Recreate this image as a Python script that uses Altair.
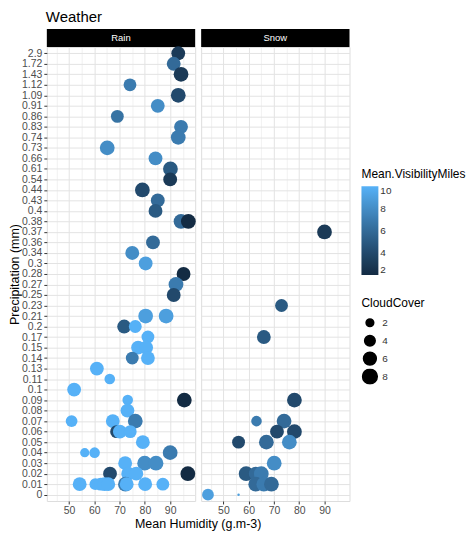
import altair as alt
import pandas as pd

# y-axis categories (top to bottom)
y_order = ["2.9", "1.72", "1.43", "1.12", "1.09", "0.91", "0.86", "0.83", "0.74",
           "0.73", "0.66", "0.61", "0.54", "0.44", "0.43", "0.4", "0.38", "0.37",
           "0.36", "0.34", "0.3", "0.28", "0.27", "0.25", "0.23", "0.21", "0.2",
           "0.17", "0.15", "0.14", "0.13", "0.11", "0.1", "0.09", "0.08", "0.07",
           "0.06", "0.05", "0.04", "0.03", "0.02", "0.01", "0"]

# Rain panel
rain_precip = ["2.9", "1.72", "1.43", "1.12", "1.09", "0.91", "0.86", "0.83", "0.74",
               "0.73", "0.66", "0.61", "0.54", "0.44", "0.43", "0.4", "0.38", "0.38",
               "0.36", "0.34", "0.3", "0.28", "0.27", "0.25", "0.21", "0.21", "0.2",
               "0.2", "0.17", "0.15", "0.15", "0.14", "0.14", "0.13", "0.11", "0.1",
               "0.09", "0.09", "0.08", "0.07", "0.07", "0.07", "0.06", "0.06", "0.06",
               "0.05", "0.04", "0.04", "0.04", "0.03", "0.03", "0.03", "0.02", "0.02",
               "0.02", "0.02", "0.01", "0.01", "0.01", "0.01", "0.01", "0.01", "0.01",
               "0.01", "0.01"]
rain_humidity = [93.2, 91.4, 94.3, 74.1, 93.2, 85.1, 69.1, 94.3, 93.2,
                 65.1, 84.2, 90.1, 90.0, 79.0, 85.1, 84.2, 94.3, 97.2,
                 83.2, 75.0, 80.3, 95.3, 92.3, 91.4, 80.3, 88.4, 71.8,
                 76.2, 81.2, 77.3, 80.5, 75.0, 81.2, 61.0, 66.1, 52.0,
                 73.2, 95.6, 73.1, 51.0, 67.3, 76.2, 68.8, 70.1, 74.2,
                 79.2, 56.2, 60.1, 90.0, 72.2, 79.9, 84.4, 66.2, 73.4,
                 76.6, 97.0, 54.2, 60.4, 62.5, 64.0, 65.5, 72.3, 72.8,
                 80.1, 87.1]
rain_vis = [3, 6, 3, 7, 4, 8, 6.5, 7, 7,
            8, 8, 5, 3, 4, 6, 5, 6, 2,
            6, 8, 9, 2, 7, 4, 9, 9, 5,
            10, 10, 10, 10, 7, 10, 10, 10, 10,
            10, 2, 10, 10, 10, 7, 4, 10, 10,
            10, 10, 10, 7, 10, 8, 8, 4, 10,
            10, 2, 10, 10, 10, 10, 10, 7, 10,
            10, 10]
rain_cloud = [7, 7, 8, 6, 8, 7, 6, 7, 8,
              8, 7, 8, 7, 8, 7, 7, 8, 8,
              7, 7, 7, 7, 8, 7, 8, 8, 7,
              6, 6, 7, 7, 6, 7, 7, 4, 7,
              4, 8, 7, 5, 7, 8, 6, 7, 6,
              7, 3, 4, 8, 7, 8, 8, 7, 7,
              7, 8, 7, 5, 6, 7, 7, 8, 7,
              7, 6]

# Snow panel
snow_precip = ["0.37", "0.23", "0.17", "0.09", "0.07", "0.07", "0.06", "0.06", "0.05",
               "0.05", "0.05", "0.03", "0.02", "0.02", "0.02", "0.01", "0.01", "0.01",
               "0", "0"]
snow_humidity = [90.0, 73.0, 66.0, 78.1, 63.1, 74.0, 71.2, 78.1, 56.0,
                 67.0, 76.1, 70.1, 59.0, 62.8, 65.0, 62.8, 66.0, 69.0,
                 43.9, 56.0]
snow_vis = [3, 5, 5, 4, 7, 6, 4, 4, 4,
            6, 8, 8, 5, 6, 7, 6, 7, 6,
            9, 9]
snow_cloud = [8, 6, 7, 8, 4, 8, 7, 8, 6,
              8, 8, 8, 8, 7, 8, 8, 8, 8,
              5, 0]

rain = pd.DataFrame({"Events": "Rain", "Precip": rain_precip, "Humidity": rain_humidity,
                     "Vis": rain_vis, "Cloud": rain_cloud})
snow = pd.DataFrame({"Events": "Snow", "Precip": snow_precip, "Humidity": snow_humidity,
                     "Vis": snow_vis, "Cloud": snow_cloud})

W, H = 149, 456
FONT = "Liberation Sans"
x_ticks = [45, 50, 55, 60, 65, 70, 75, 80, 85, 90, 95]

major = "datum.value % 10 === 0"
x_axis = alt.Axis(values=x_ticks, labelExpr=f"{major} ? datum.label : ''",
                  title=None, domain=False, grid=True, gridColor="#E3E3E3",
                  gridWidth={"condition": {"test": major, "value": 1}, "value": 0.5},
                  tickOpacity={"condition": {"test": major, "value": 1}, "value": 0},
                  tickColor="#333", tickSize=3, labelColor="#4D4D4D", labelFontSize=10.5,
                  labelPadding=2, labelFont=FONT)

x_enc = alt.X("Humidity:Q", scale=alt.Scale(domain=[41.2, 99.9], nice=False, zero=False),
              axis=x_axis)
y_scale = alt.Scale(domain=y_order, padding=0.6)
color_enc = alt.Color("Vis:Q",
                      scale=alt.Scale(domain=[2, 10], range=["#132B43", "#56B1F7"],
                                      interpolate="lab"),
                      legend=alt.Legend(title="Mean.VisibilityMiles", orient="none",
                                        legendX=316, legendY=123, gradientLength=89,
                                        gradientThickness=17, values=[2, 4, 6, 8, 10],
                                        titleFontSize=12, titleFontWeight="normal",
                                        labelFontSize=10, titleFont=FONT, labelFont=FONT,
                                        labelColor="#333", titleColor="#000"))
size_enc = alt.Size("Cloud:Q", scale=alt.Scale(domain=[0, 8], range=[6, 220]),
                    legend=alt.Legend(title="CloudCover", orient="none", legendX=316,
                                      legendY=252, values=[2, 4, 6, 8],
                                      symbolFillColor="black", symbolStrokeColor="black",
                                      symbolOpacity=1, titleFontSize=12, rowPadding=2,
                                      clipHeight=16,
                                      titleFontWeight="normal", labelFontSize=10,
                                      titleFont=FONT, labelFont=FONT, labelColor="#333"))


def panel(df, name, first):
    if first:
        y_axis = alt.Axis(title="Precipitation (mm)", titleFontSize=12.5,
                          titleFontWeight="normal", titleFont=FONT, titlePadding=0,
                          labelFontSize=10.5, labelFont=FONT, labelColor="#4D4D4D",
                          labelOverlap=False, tickSize=3, tickColor="#333", domain=False,
                          grid=True, gridColor="#E3E3E3", labelPadding=2)
    else:
        y_axis = alt.Axis(title=None, labels=False, ticks=False, domain=False,
                          grid=True, gridColor="#E3E3E3")
    pts = alt.Chart(df).mark_circle(opacity=1).encode(
        x=x_enc,
        y=alt.Y("Precip:N", sort=y_order, scale=y_scale, axis=y_axis),
        color=color_enc,
        size=size_enc,
    )
    lab = pd.DataFrame({"label": [name]})
    strip = alt.Chart(lab).mark_rect(color="black").encode(
        x=alt.value(0), x2=alt.value(W), y=alt.value(-18), y2=alt.value(0))
    strip_txt = alt.Chart(lab).mark_text(color="white", fontSize=9.5, font=FONT).encode(
        x=alt.value(W / 2), y=alt.value(-9), text="label:N")
    layers = [strip, strip_txt, pts]
    if first:
        t = pd.DataFrame({"t": ["Weather"], "xt": ["Mean Humidity (g.m-3)"]})
        title = alt.Chart(t).mark_text(align="left", baseline="alphabetic", fontSize=15,
                                       font=FONT, color="#000").encode(
            x=alt.value(-1), y=alt.value(-25), text="t:N")
        xtitle = alt.Chart(t).mark_text(align="center", baseline="middle", fontSize=12.5,
                                        font=FONT, color="#000").encode(
            x=alt.value(W + 3), y=alt.value(H + 23), text="xt:N")
        layers += [title, xtitle]
    return alt.layer(*layers).properties(width=W, height=H)


chart = alt.hconcat(panel(rain, "Rain", True), panel(snow, "Snow", False),
                    spacing=6, bounds="flush").properties(padding=0).configure_view(
    stroke="#555", strokeWidth=1).configure(background="white")

chart.save("out.html", embed_options={"renderer": "svg", "actions": False})
